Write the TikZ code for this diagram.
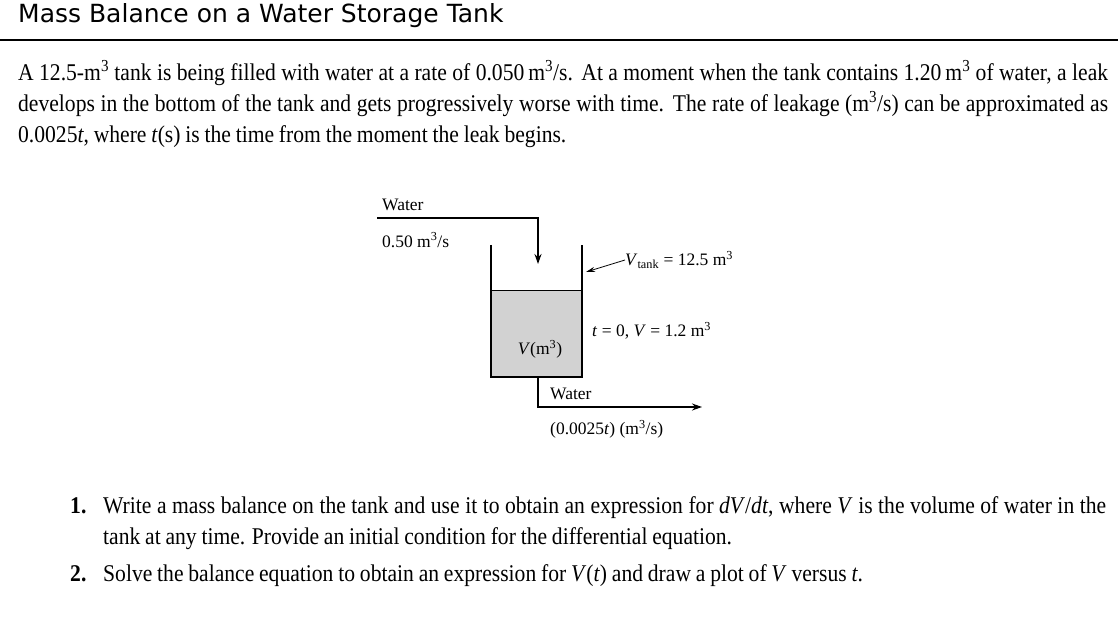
\documentclass[tikz,border=0pt]{standalone}
\usepackage{fontspec}
\setmainfont{Liberation Serif}
\newfontfamily\bodyfont[FakeStretch=0.9]{Liberation Serif}
\newfontfamily\titlefont{DejaVu Sans}
\usetikzlibrary{arrows.meta}
\newcommand{\vi}[1]{\textit{#1}}
\begin{document}
\begin{tikzpicture}[x=1pt,y=-1pt,
  lbl/.style={anchor=west,inner sep=0,font=\fontsize{17.5}{19}\selectfont},
  pipe/.style={line width=2pt},
  arr/.style={-{Stealth[length=10pt,width=7pt]}}]
\useasboundingbox (0,0) rectangle (1118,620);
\node[anchor=west,inner sep=0,font=\titlefont\fontsize{25}{27}\selectfont] (title) at (18,16) {Mass Balance on a Water Storage Tank};
\draw[line width=2pt] (0,40) -- (1118,40);
\node[anchor=north west,inner sep=0,text width=1090pt,align=justify,font=\bodyfont\fontsize{24}{31}\selectfont] (body) at (18,60)
{\spaceskip=0.2em plus 0.3em minus 0.06em A 12.5-m\textsuperscript{3} tank is being filled with water at a rate of 0.050\,m\textsuperscript{3}/s. At a moment when the tank contains 1.20\,m\textsuperscript{3} of water, a leak develops in the bottom of the tank and gets progressively worse with time. The rate of leakage (m\textsuperscript{3}/s) can be approximated as 0.0025\vi{t}, where \vi{t}(s) is the time from the moment the leak begins.};
% tank
\fill[gray!35] (491,290) rectangle (582,377);
\draw[line width=0.6pt] (491,290) -- (582,290);
\draw[pipe] (491,245) -- (491,377) -- (582,377) -- (582,245);
\coordinate (inA) at (377,218);
\coordinate (inB) at (538,264);
\draw[pipe,arr] (inA) -| (inB);
\coordinate (outA) at (538,377);
\coordinate (outB) at (702,407);
\draw[pipe,arr] (outA) |- (outB);
\node[lbl] (w1) at (382,205) {Water};
\node[lbl] (q1) at (382,240) {0.50 m\textsuperscript{3}/s};
\node[lbl] (vt) at (625,260) {\vi{V}\textsubscript{tank} = 12.5 m\textsuperscript{3}};
\coordinate (vtip) at (586,272);
\draw[line width=0.8pt,-{Stealth[length=9pt,width=5pt]}] (vt.west) -- (vtip);
\node[lbl] (t0) at (592,331) {\vi{t} = 0, \vi{V} = 1.2 m\textsuperscript{3}};
\node[lbl,anchor=center] (vm) at (540,349) {\vi{V}(m\textsuperscript{3})};
\node[lbl] (w2) at (550,394) {Water};
\node[lbl] (q2) at (550,429) {(0.0025\vi{t}) (m\textsuperscript{3}/s)};
% questions
\node[anchor=north west,inner sep=0,text width=1036pt,align=justify,font=\bodyfont\fontsize{24}{31}\selectfont] (qs) at (70,496)
{\spaceskip=0.2em plus 0.3em minus 0.06em \hangindent=33pt\hangafter=1\makebox[33pt][l]{\textbf{1.}}Write a mass balance on the tank and use it to obtain an expression for \vi{dV}/\vi{dt}, where \vi{V} is the volume of water in the tank at any time. Provide an initial condition for the differential equation.\par\vspace{6pt}
\hangindent=33pt\hangafter=1\makebox[33pt][l]{\textbf{2.}}Solve the balance equation to obtain an expression for \vi{V}(\vi{t}) and draw a plot of \vi{V} versus \vi{t}.};
\end{tikzpicture}
\end{document}
